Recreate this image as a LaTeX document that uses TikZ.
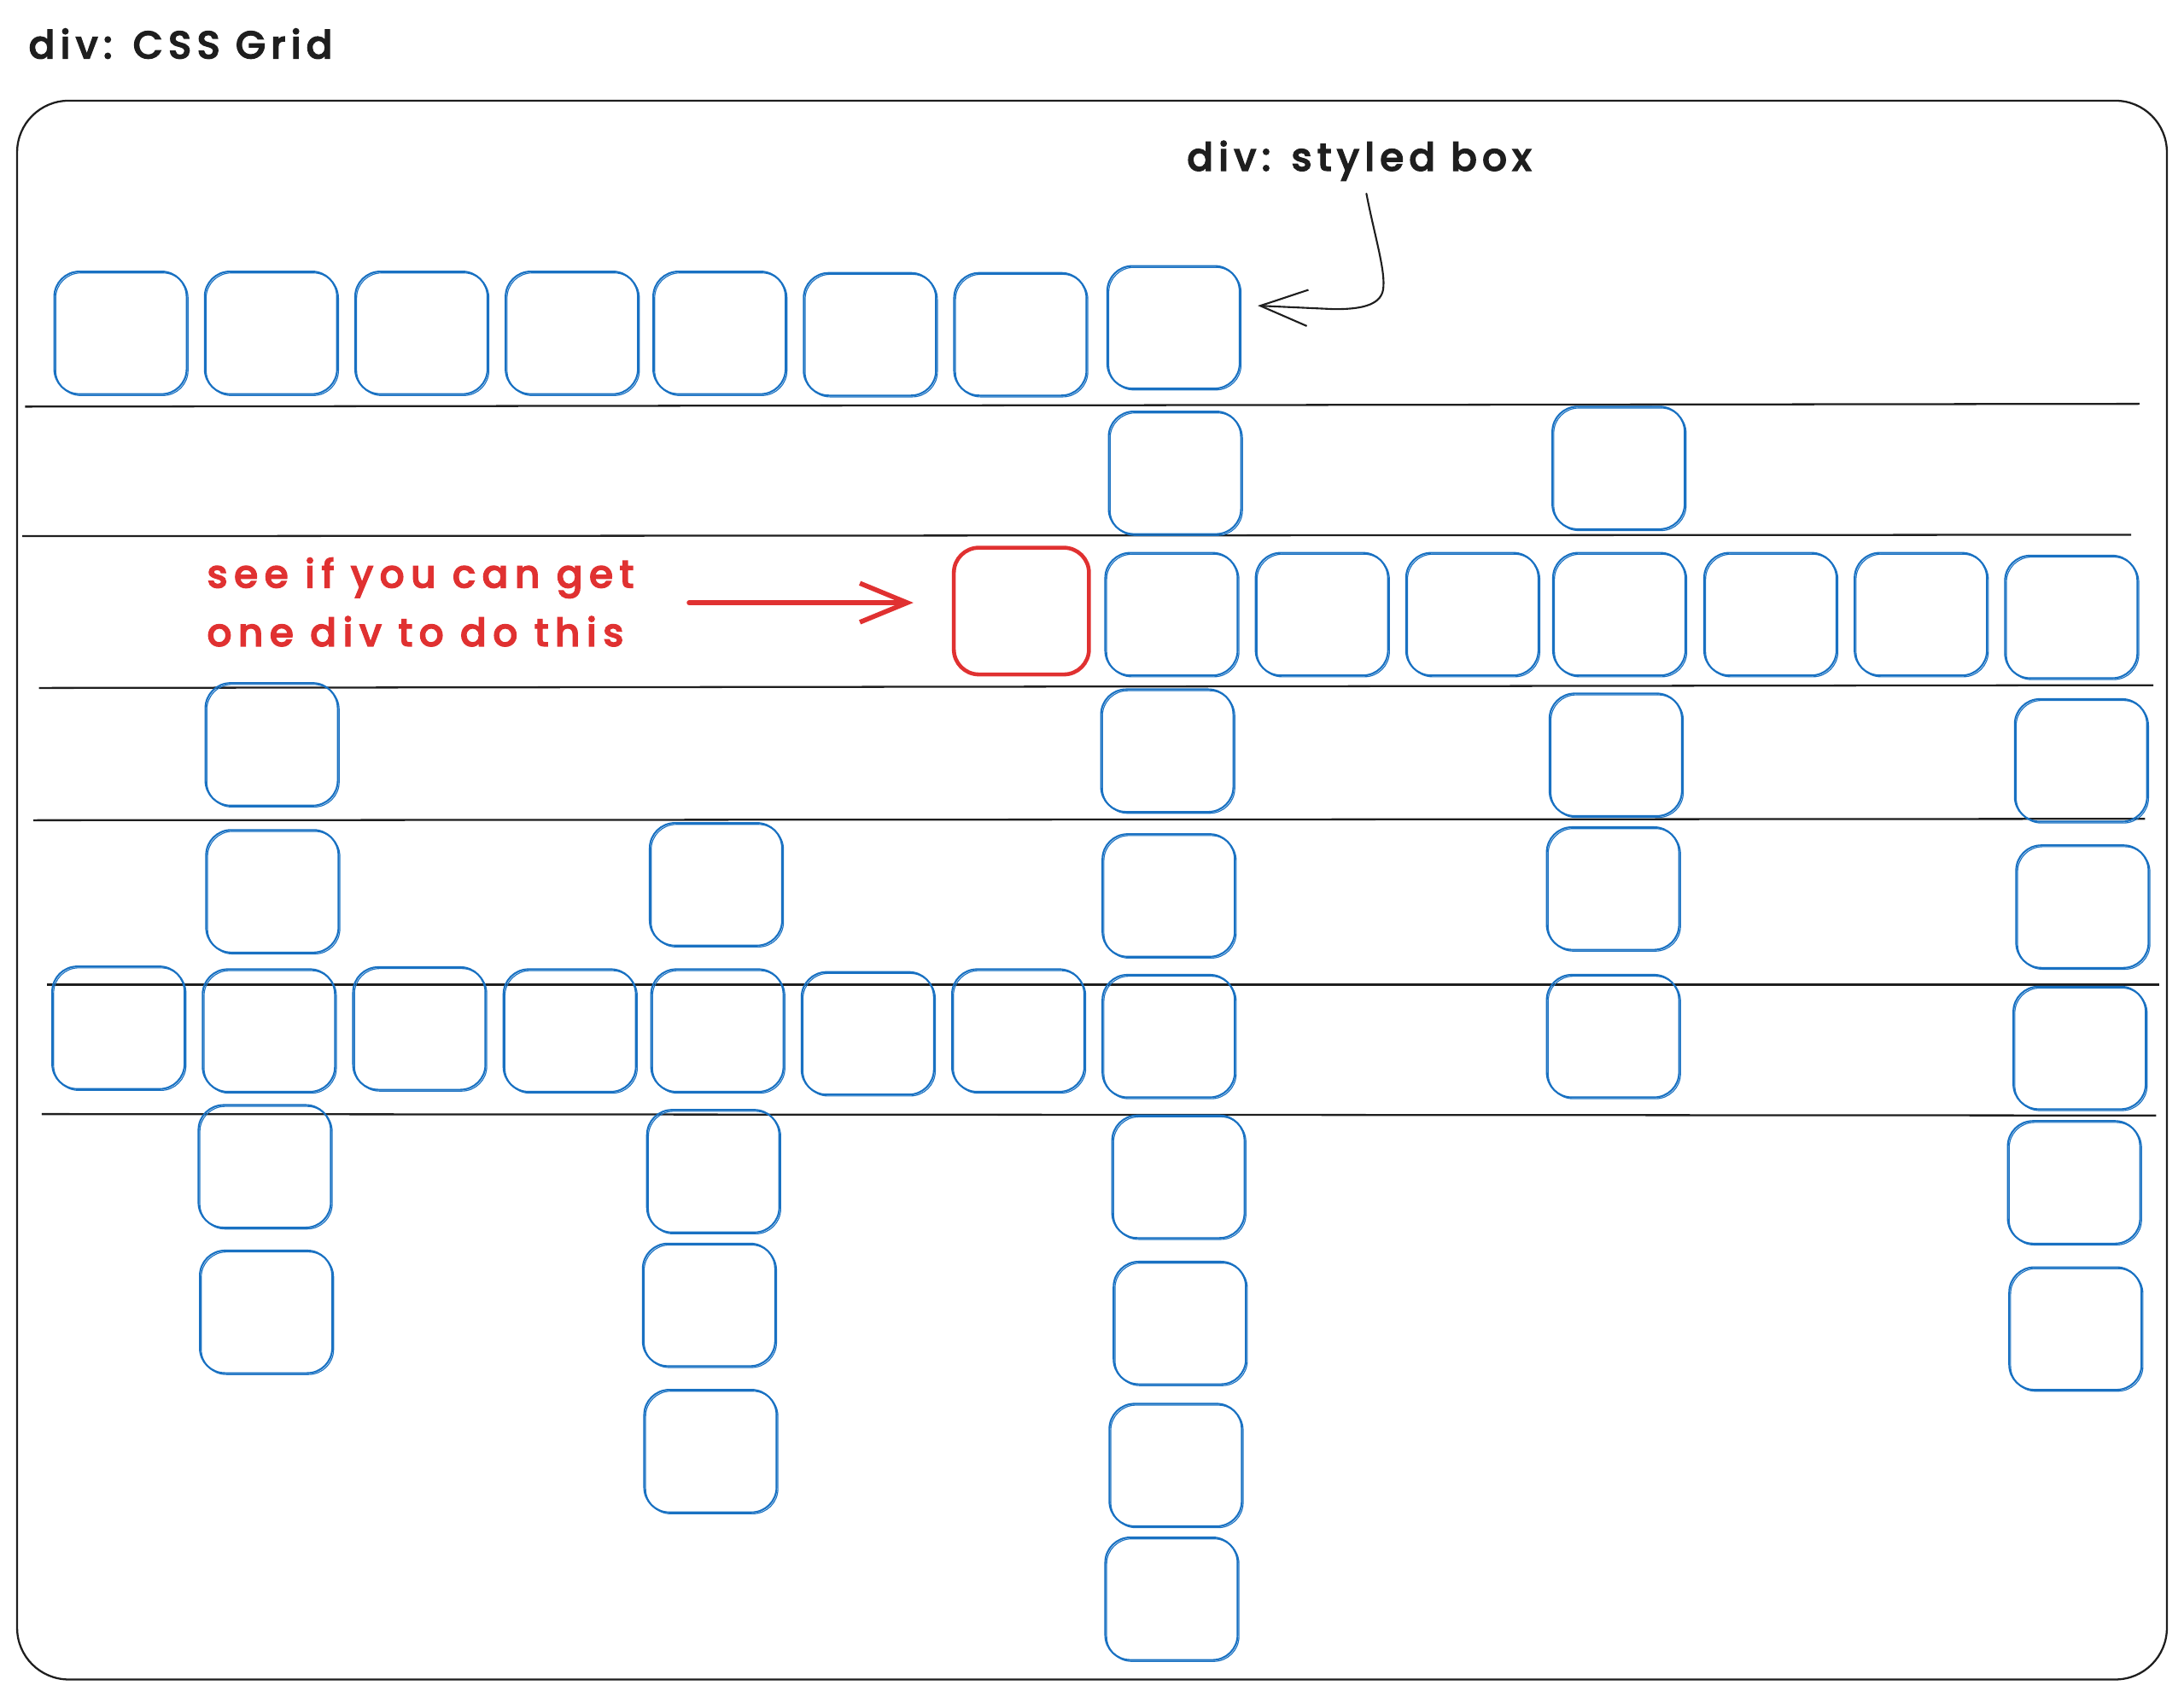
\documentclass[tikz,border=0pt]{standalone}
\usepackage{fontspec}
\newfontfamily\hand[LetterSpace=13]{Poppins Medium}
\newfontfamily\handred[LetterSpace=16]{Poppins Medium}
\newcommand\thickstroke[1]{\special{pdf:literal direct 2 Tr 0.7 w}#1\special{pdf:literal direct 0 Tr}}
\usetikzlibrary{arrows.meta,calc}
\definecolor{ink}{HTML}{1E1E1E}
\definecolor{bblue}{HTML}{1971C2}
\definecolor{rred}{HTML}{E03131}
\begin{document}
\begin{tikzpicture}[x=1pt,y=-1pt,
  bx/.style={draw=bblue, line width=1.3pt, rounded corners=18pt,
    minimum width=95pt, minimum height=88pt, inner sep=0pt, outer sep=0pt,
    postaction={draw=bblue, line width=0.7pt, transform canvas={shift={(1pt,-1pt)}}}},
  rbx/.style={draw=rred, line width=2.8pt, rounded corners=18pt,
    minimum width=97pt, minimum height=91pt, inner sep=0pt, outer sep=0pt},
  txt/.style={font=\hand\fontsize{28}{34}\selectfont, text=ink, inner sep=0pt, anchor=base west},
  rtxt/.style={txt, font=\handred\fontsize{28}{34}\selectfont, text=rred},
  hline/.style={draw=ink, line width=1.4pt},
  frame/.style={draw=ink, line width=1.4pt, rounded corners=37pt},
]
\useasboundingbox (0,0) rectangle (1568,1218);

% outer frame
\draw[frame] (12.3,72.3) rectangle (1555.7,1206);

% texts
\node[txt] (title) at (20.4,42) {\thickstroke{div: CSS Grid}};
\node[txt] (ann) at (852,122.6) {\thickstroke{div: styled box}};
\node[rtxt] (red1) at (148.4,422) {\thickstroke{see if you can get}};
\node[rtxt] (red2) at (148.4,464) {\thickstroke{one div to do this}};

% horizontal row lines
\coordinate (l1a) at (18,292);  \coordinate (l1b) at (1536,290);
\coordinate (l2a) at (16,385);  \coordinate (l2b) at (1530,384);
\coordinate (l3a) at (28,494);  \coordinate (l3b) at (1546,492);
\coordinate (l4a) at (24,589);  \coordinate (l4b) at (1540,588);
\coordinate (l5a) at (34,707);  \coordinate (l5b) at (1550,707);
\coordinate (l6a) at (30,800);  \coordinate (l6b) at (1548,801);
\foreach \i in {1,...,6} {\draw[hline] (l\i a) -- (l\i b);}

% row A
\node[bx] (a1) at (86.5,239) {};
\node[bx] (a2) at (194.5,239) {};
\node[bx] (a3) at (302.5,239) {};
\node[bx] (a4) at (410.5,239) {};
\node[bx] (a5) at (516.5,239) {};
\node[bx] (a6) at (624.5,240) {};
\node[bx] (a7) at (732.5,240) {};
\node[bx] (a8) at (842.5,235) {};
% row B
\node[bx] (b1) at (843.5,339.5) {};
\node[bx] (b2) at (1162,336) {};
% row C
\node[rbx] (rbox) at (733.3,438.8) {};
\node[bx] (c1) at (841,441) {};
\node[bx] (c2) at (949,441) {};
\node[bx] (c3) at (1057,441) {};
\node[bx] (c4) at (1162.5,441) {};
\node[bx] (c5) at (1271,441) {};
\node[bx] (c6) at (1379,441) {};
\node[bx] (c7) at (1487,443) {};
% row D
\node[bx] (d1) at (195,534.5) {};
\node[bx] (d2) at (838,539) {};
\node[bx] (d3) at (1160,542) {};
\node[bx] (d4) at (1494,546) {};
% row E
\node[bx] (e1) at (195.5,640) {};
\node[bx] (e2) at (514,635) {};
\node[bx] (e3) at (839,643) {};
\node[bx] (e4) at (1158,638) {};
\node[bx] (e5) at (1495,651) {};
% row F
\node[bx] (f1) at (85,738) {};
\node[bx] (f2) at (193,740) {};
\node[bx] (f3) at (301,738.5) {};
\node[bx] (f4) at (409,740) {};
\node[bx] (f5) at (515,740) {};
\node[bx] (f6) at (623,742) {};
\node[bx] (f7) at (731,740) {};
\node[bx] (f8) at (839,744) {};
\node[bx] (f9) at (1158,744) {};
\node[bx] (f10) at (1493,752.5) {};
% row G
\node[bx] (g1) at (190,837.5) {};
\node[bx] (g2) at (512,841) {};
\node[bx] (g3) at (846,845) {};
\node[bx] (g4) at (1489,849) {};
% row H
\node[bx] (h1) at (191,942) {};
\node[bx] (h2) at (509,937) {};
\node[bx] (h3) at (847,950) {};
\node[bx] (h4) at (1490,954) {};
% row I
\node[bx] (i1) at (510,1042) {};
\node[bx] (i2) at (844,1052) {};
% row J
\node[bx] (j1) at (841,1148) {};

% black annotation arrow
\coordinate (as) at (981,139);
\coordinate (t8) at ($(a8.east)+(13,-15.5)$);
\draw[ink, line width=1.3pt, line cap=round, -{Straight Barb[length=34pt,width=26pt,line width=1.3pt]}]
  (as) .. controls (987,170) and (995,195) .. (993,208)
       .. controls (991,220) and (975,222) .. (958,222) -- (t8);

% red arrow
\coordinate (rs) at (494.7,432.8);
\draw[rred, line width=3.4pt, line cap=round, -{Straight Barb[length=34pt,width=28pt,line width=3.4pt]}]
  (rs) -- ([xshift=-29pt]rs -| rbox.west);
\end{tikzpicture}
\end{document}
